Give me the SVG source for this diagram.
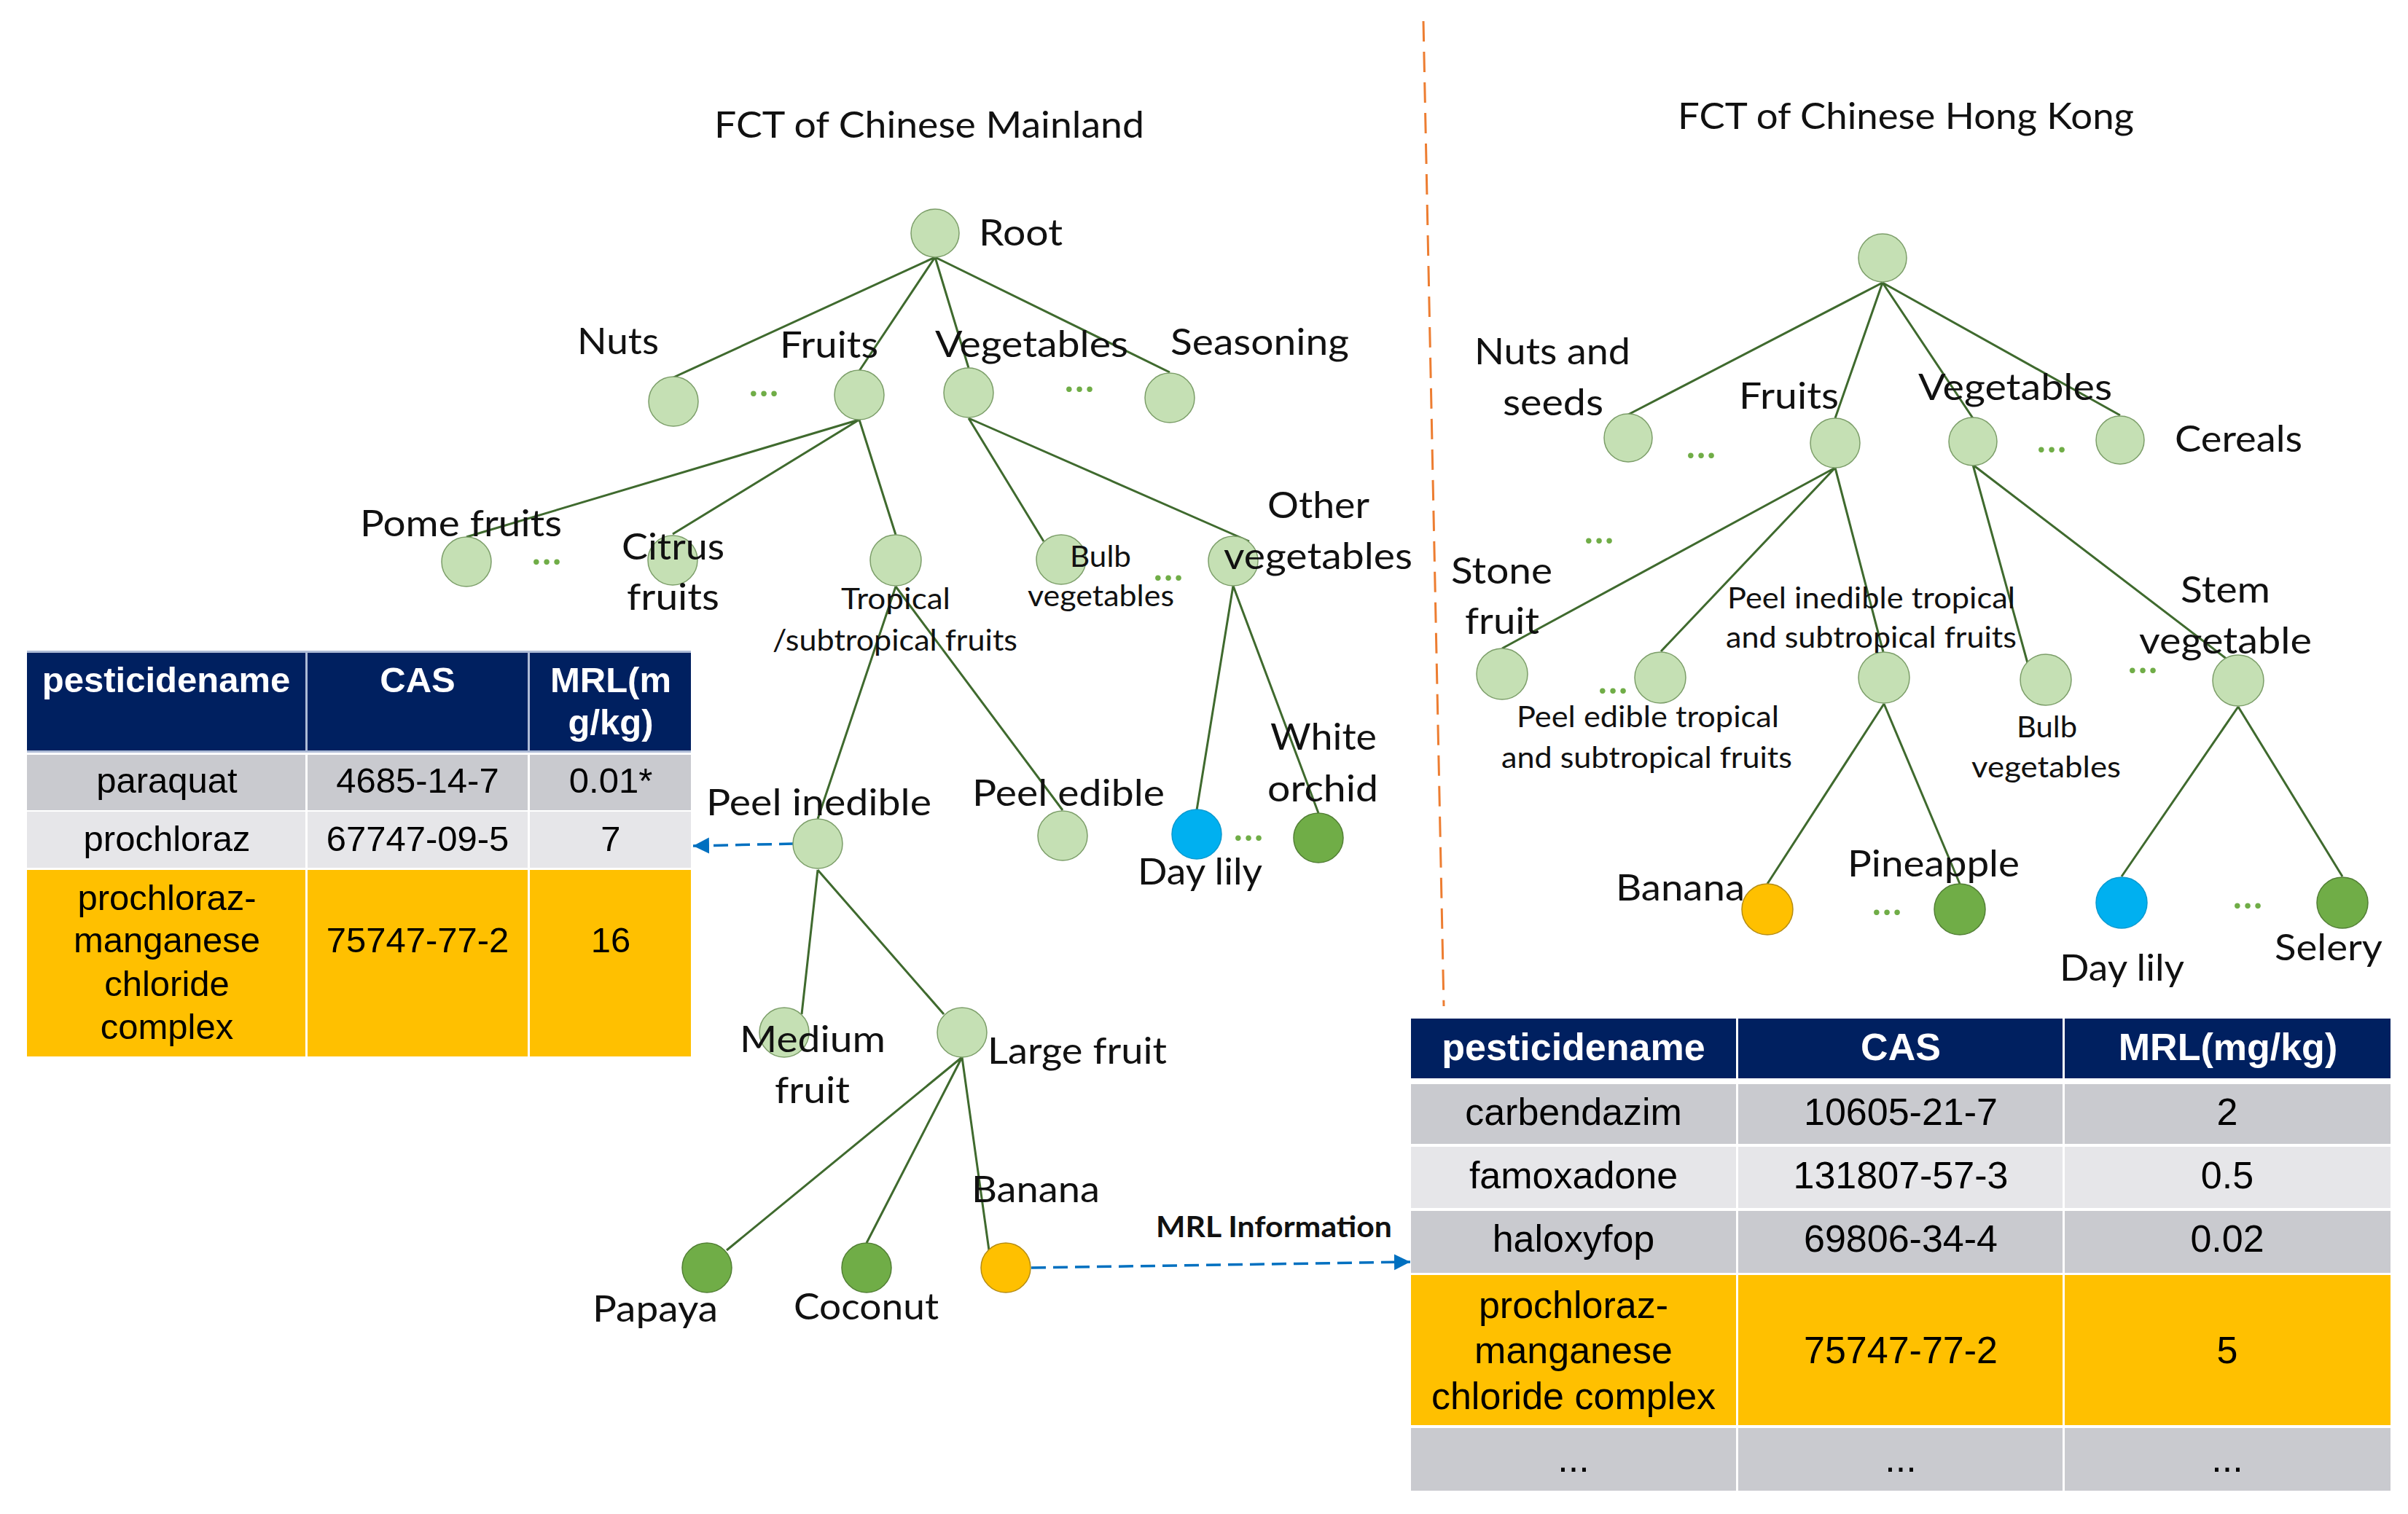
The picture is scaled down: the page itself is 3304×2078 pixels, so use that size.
<svg xmlns="http://www.w3.org/2000/svg" width="3304" height="2078" viewBox="0 0 3304 2078">
<style>
text{font-family:"Lato","Open Sans",sans-serif;fill:#111}
.l{font-size:50px}
.s{font-size:41px}
.d{font-size:60px;fill:#70AD47;text-anchor:middle}
.t{font-family:"Liberation Sans",Arial,sans-serif;text-anchor:middle;font-size:49px;fill:#000}
.t2{font-size:52px}
.h{font-weight:700;fill:#fff}
.e{stroke:#3F6A2E;stroke-width:3;fill:none}
.c{fill:#C5E0B4;stroke:#7C9E69;stroke-width:1.5}
.g{fill:#70AD47;stroke:#527F35;stroke-width:1.5}
.b{fill:#00B0F0;stroke:#0A9AD0;stroke-width:1.5}
.o{fill:#FFC000;stroke:#B58C14;stroke-width:1.5}
.ar{stroke:#0070C0;stroke-width:3.5;stroke-dasharray:20 10;fill:none}
.na{fill:#002060}.gr{fill:#C9CACF}.lg{fill:#E6E6E9}.ye{fill:#FFC000}
</style>
<defs>
<marker id="tip" markerUnits="userSpaceOnUse" markerWidth="24" markerHeight="24" refX="22" refY="11" orient="auto"><path d="M0 0L22 11L0 22Z" fill="#0070C0"/></marker>
</defs>
<rect width="3304" height="2078" fill="#fff"/>
<g id="connectors">
<path class="e" d="M1283 353L924 518M1283 353L1179 509M1283 353L1329 505M1283 353L1605 511"/>
<path class="e" d="M1179 576L640 737M1179 576L923 733M1179 576L1229 734M1329 574L1432 743M1329 574L1714 743"/>
<path class="e" d="M1229 805L1122 1124M1229 805L1458 1112M1692 804L1642 1112M1692 804L1809 1116"/>
<path class="e" d="M1122 1194L1100 1392M1122 1194L1295 1392M1320 1451L997 1716M1320 1451L1189 1706M1320 1451L1357 1716"/>
<path class="e" d="M2583 388L2234 569M2583 388L2518 574M2583 388L2707 574M2583 388L2909 570"/>
<path class="e" d="M2518 642L2061 890M2518 642L2279 894M2518 642L2584 895M2707 638L2782 910M2707 638L3056 905"/>
<path class="e" d="M2585 966L2425 1213M2585 966L2689 1213M3071 970L2911 1203M3071 970L3214 1203"/>
<path d="M1953 29L1981 1381" stroke="#ED7D31" stroke-width="3" stroke-dasharray="28 14" fill="none"/>
<path class="ar" d="M1089 1158L951 1161" marker-end="url(#tip)"/>
<path class="ar" d="M1415 1740L1935 1732" marker-end="url(#tip)"/>
</g>
<g id="titles">
<text class="l" x="980" y="189" textLength="590" lengthAdjust="spacingAndGlyphs">FCT of Chinese Mainland</text>
<text class="l" x="2302" y="177" textLength="626" lengthAdjust="spacingAndGlyphs">FCT of Chinese Hong Kong</text>
<text x="1586" y="1698" style="font-size:40px;font-weight:700" textLength="324" lengthAdjust="spacingAndGlyphs">MRL Information</text>
</g>
<g id="mainland-tree">
<g id="m-root"><circle class="c" cx="1283" cy="320" r="33"/><text class="l" x="1343" y="337" textLength="115" lengthAdjust="spacingAndGlyphs">Root</text></g>
<g id="m-nuts"><circle class="c" cx="924" cy="551" r="34"/><text class="l" x="792" y="486" textLength="112" lengthAdjust="spacingAndGlyphs">Nuts</text></g>
<g id="m-fruits"><circle class="c" cx="1179" cy="542" r="34"/><text class="l" x="1070" y="491" textLength="135" lengthAdjust="spacingAndGlyphs">Fruits</text></g>
<g id="m-vegetables"><circle class="c" cx="1329" cy="539" r="34"/><text class="l" x="1283" y="490" textLength="265" lengthAdjust="spacingAndGlyphs">Vegetables</text></g>
<g id="m-seasoning"><circle class="c" cx="1605" cy="546" r="34"/><text class="l" x="1606" y="487" textLength="245" lengthAdjust="spacingAndGlyphs">Seasoning</text></g>
<g id="m-pome"><circle class="c" cx="640" cy="771" r="34"/><text class="l" x="494" y="736" textLength="277" lengthAdjust="spacingAndGlyphs">Pome fruits</text></g>
<g id="m-citrus"><circle class="c" cx="923" cy="769" r="34"/><text class="l" x="853" y="768" textLength="141" lengthAdjust="spacingAndGlyphs">Citrus</text><text class="l" x="860" y="837" textLength="127" lengthAdjust="spacingAndGlyphs">fruits</text></g>
<g id="m-tropical"><circle class="c" cx="1229" cy="769" r="35"/><text class="s" x="1154" y="836" textLength="150" lengthAdjust="spacingAndGlyphs">Tropical</text><text class="s" x="1060" y="893" textLength="336" lengthAdjust="spacingAndGlyphs">/subtropical fruits</text></g>
<g id="m-bulb"><circle class="c" cx="1456" cy="768" r="34"/><text class="s" x="1468" y="778" textLength="84" lengthAdjust="spacingAndGlyphs">Bulb</text><text class="s" x="1410" y="832" textLength="201" lengthAdjust="spacingAndGlyphs">vegetables</text></g>
<g id="m-other"><circle class="c" cx="1692" cy="770" r="34"/><text class="l" x="1739" y="711" textLength="140" lengthAdjust="spacingAndGlyphs">Other</text><text class="l" x="1679" y="781" textLength="259" lengthAdjust="spacingAndGlyphs">vegetables</text></g>
<g id="m-peel-inedible"><circle class="c" cx="1122" cy="1158" r="34"/><text class="l" x="969" y="1119" textLength="309" lengthAdjust="spacingAndGlyphs">Peel inedible</text></g>
<g id="m-peel-edible"><circle class="c" cx="1458" cy="1147" r="34"/><text class="l" x="1334" y="1106" textLength="264" lengthAdjust="spacingAndGlyphs">Peel edible</text></g>
<g id="m-daylily"><circle class="b" cx="1642" cy="1145" r="34"/><text class="l" x="1561" y="1214" textLength="171" lengthAdjust="spacingAndGlyphs">Day lily</text></g>
<g id="m-orchid"><circle class="g" cx="1809" cy="1150" r="34"/><text class="l" x="1743" y="1029" textLength="146" lengthAdjust="spacingAndGlyphs">White</text><text class="l" x="1739" y="1100" textLength="152" lengthAdjust="spacingAndGlyphs">orchid</text></g>
<g id="m-medium"><circle class="c" cx="1076" cy="1417" r="34"/><text class="l" x="1015" y="1444" textLength="200" lengthAdjust="spacingAndGlyphs">Medium</text><text class="l" x="1063" y="1514" textLength="103" lengthAdjust="spacingAndGlyphs">fruit</text></g>
<g id="m-large"><circle class="c" cx="1320" cy="1417" r="34"/><text class="l" x="1355" y="1460" textLength="246" lengthAdjust="spacingAndGlyphs">Large fruit</text></g>
<g id="m-papaya"><circle class="g" cx="970" cy="1740" r="34"/><text class="l" x="813" y="1814" textLength="172" lengthAdjust="spacingAndGlyphs">Papaya</text></g>
<g id="m-coconut"><circle class="g" cx="1189" cy="1740" r="34"/><text class="l" x="1089" y="1811" textLength="199" lengthAdjust="spacingAndGlyphs">Coconut</text></g>
<g id="m-banana"><circle class="o" cx="1380" cy="1740" r="34"/><text class="l" x="1333" y="1650" textLength="176" lengthAdjust="spacingAndGlyphs">Banana</text></g>
<g id="m-dots"><text class="d" x="1048" y="544">...</text><text class="d" x="1481" y="538">...</text><text class="d" x="750" y="775">...</text><text class="d" x="1603" y="797">...</text><text class="d" x="1713" y="1154">...</text></g>
</g>
<g id="hongkong-tree">
<g id="h-root"><circle class="c" cx="2583" cy="354" r="33"/></g>
<g id="h-nuts"><circle class="c" cx="2234" cy="601" r="33"/><text class="l" x="2023" y="500" textLength="214" lengthAdjust="spacingAndGlyphs">Nuts and</text><text class="l" x="2062" y="570" textLength="138" lengthAdjust="spacingAndGlyphs">seeds</text></g>
<g id="h-fruits"><circle class="c" cx="2518" cy="608" r="34"/><text class="l" x="2386" y="561" textLength="137" lengthAdjust="spacingAndGlyphs">Fruits</text></g>
<g id="h-vegetables"><circle class="c" cx="2707" cy="606" r="33"/><text class="l" x="2632" y="549" textLength="266" lengthAdjust="spacingAndGlyphs">Vegetables</text></g>
<g id="h-cereals"><circle class="c" cx="2909" cy="604" r="33"/><text class="l" x="2984" y="620" textLength="175" lengthAdjust="spacingAndGlyphs">Cereals</text></g>
<g id="h-stone"><circle class="c" cx="2061" cy="925" r="35"/><text class="l" x="1991" y="801" textLength="139" lengthAdjust="spacingAndGlyphs">Stone</text><text class="l" x="2010" y="870" textLength="102" lengthAdjust="spacingAndGlyphs">fruit</text></g>
<g id="h-peel-edible"><circle class="c" cx="2278" cy="930" r="35"/><text class="s" x="2081" y="998" textLength="360" lengthAdjust="spacingAndGlyphs">Peel edible tropical</text><text class="s" x="2060" y="1054" textLength="399" lengthAdjust="spacingAndGlyphs">and subtropical fruits</text></g>
<g id="h-peel-inedible"><circle class="c" cx="2585" cy="930" r="35"/><text class="s" x="2370" y="835" textLength="395" lengthAdjust="spacingAndGlyphs">Peel inedible tropical</text><text class="s" x="2368" y="889" textLength="399" lengthAdjust="spacingAndGlyphs">and subtropical fruits</text></g>
<g id="h-bulb"><circle class="c" cx="2807" cy="933" r="35"/><text class="s" x="2767" y="1012" textLength="83" lengthAdjust="spacingAndGlyphs">Bulb</text><text class="s" x="2705" y="1067" textLength="205" lengthAdjust="spacingAndGlyphs">vegetables</text></g>
<g id="h-stem"><circle class="c" cx="3071" cy="934" r="35"/><text class="l" x="2992" y="827" textLength="123" lengthAdjust="spacingAndGlyphs">Stem</text><text class="l" x="2935" y="897" textLength="237" lengthAdjust="spacingAndGlyphs">vegetable</text></g>
<g id="h-banana"><circle class="o" cx="2425" cy="1248" r="35"/><text class="l" x="2217" y="1236" textLength="177" lengthAdjust="spacingAndGlyphs">Banana</text></g>
<g id="h-pineapple"><circle class="g" cx="2689" cy="1248" r="35"/><text class="l" x="2535" y="1203" textLength="236" lengthAdjust="spacingAndGlyphs">Pineapple</text></g>
<g id="h-daylily"><circle class="b" cx="2911" cy="1239" r="35"/><text class="l" x="2826" y="1346" textLength="171" lengthAdjust="spacingAndGlyphs">Day lily</text></g>
<g id="h-selery"><circle class="g" cx="3214" cy="1239" r="35"/><text class="l" x="3121" y="1318" textLength="148" lengthAdjust="spacingAndGlyphs">Selery</text></g>
<g id="h-dots"><text class="d" x="2334" y="629">...</text><text class="d" x="2815" y="621">...</text><text class="d" x="2194" y="746">...</text><text class="d" x="2213" y="952">...</text><text class="d" x="2940" y="924">...</text><text class="d" x="2589" y="1256">...</text><text class="d" x="3084" y="1247">...</text></g>
</g>
<g id="table-mainland">
<rect x="37" y="893" width="911" height="140" fill="#AEBBD6"/>
<rect class="na" x="37" y="896" width="382" height="134"/><rect class="na" x="422" y="896" width="302" height="134"/><rect class="na" x="727" y="896" width="221" height="134"/>
<rect class="gr" x="37" y="1036" width="382" height="76"/><rect class="gr" x="422" y="1036" width="302" height="76"/><rect class="gr" x="727" y="1036" width="221" height="76"/>
<rect class="lg" x="37" y="1114" width="382" height="77"/><rect class="lg" x="422" y="1114" width="302" height="77"/><rect class="lg" x="727" y="1114" width="221" height="77"/>
<rect class="ye" x="37" y="1194" width="382" height="256"/><rect class="ye" x="422" y="1194" width="302" height="256"/><rect class="ye" x="727" y="1194" width="221" height="256"/>
<text class="t h" x="228" y="950">pesticidename</text><text class="t h" x="573" y="950">CAS</text><text class="t h" x="838" y="950">MRL(m</text><text class="t h" x="838" y="1008">g/kg)</text>
<text class="t" x="229" y="1088">paraquat</text><text class="t" x="573" y="1088">4685-14-7</text><text class="t" x="838" y="1088">0.01*</text>
<text class="t" x="229" y="1168">prochloraz</text><text class="t" x="573" y="1168">67747-09-5</text><text class="t" x="838" y="1168">7</text>
<text class="t" x="229" y="1249">prochloraz-</text><text class="t" x="229" y="1307">manganese</text><text class="t" x="229" y="1367">chloride</text><text class="t" x="229" y="1426">complex</text><text class="t" x="573" y="1307">75747-77-2</text><text class="t" x="838" y="1307">16</text>
</g>
<g id="table-hongkong">
<rect class="na" x="1936" y="1398" width="446" height="82"/><rect class="na" x="2385" y="1398" width="445" height="82"/><rect class="na" x="2833" y="1398" width="447" height="82"/>
<rect class="gr" x="1936" y="1488" width="446" height="82"/><rect class="gr" x="2385" y="1488" width="445" height="82"/><rect class="gr" x="2833" y="1488" width="447" height="82"/>
<rect class="lg" x="1936" y="1574" width="446" height="84"/><rect class="lg" x="2385" y="1574" width="445" height="84"/><rect class="lg" x="2833" y="1574" width="447" height="84"/>
<rect class="gr" x="1936" y="1662" width="446" height="85"/><rect class="gr" x="2385" y="1662" width="445" height="85"/><rect class="gr" x="2833" y="1662" width="447" height="85"/>
<rect class="ye" x="1936" y="1750" width="446" height="206"/><rect class="ye" x="2385" y="1750" width="445" height="206"/><rect class="ye" x="2833" y="1750" width="447" height="206"/>
<rect class="gr" x="1936" y="1960" width="446" height="86"/><rect class="gr" x="2385" y="1960" width="445" height="86"/><rect class="gr" x="2833" y="1960" width="447" height="86"/>
<text class="t t2 h" x="2159" y="1455">pesticidename</text><text class="t t2 h" x="2608" y="1455">CAS</text><text class="t t2 h" x="3057" y="1455">MRL(mg/kg)</text>
<text class="t t2" x="2159" y="1544">carbendazim</text><text class="t t2" x="2608" y="1544">10605-21-7</text><text class="t t2" x="3056" y="1544">2</text>
<text class="t t2" x="2159" y="1631">famoxadone</text><text class="t t2" x="2608" y="1631">131807-57-3</text><text class="t t2" x="3056" y="1631">0.5</text>
<text class="t t2" x="2159" y="1718">haloxyfop</text><text class="t t2" x="2608" y="1718">69806-34-4</text><text class="t t2" x="3056" y="1718">0.02</text>
<text class="t t2" x="2159" y="1809">prochloraz-</text><text class="t t2" x="2159" y="1871">manganese</text><text class="t t2" x="2159" y="1934">chloride complex</text><text class="t t2" x="2608" y="1871">75747-77-2</text><text class="t t2" x="3056" y="1871">5</text>
<text class="t t2" x="2159" y="2020">...</text><text class="t t2" x="2608" y="2020">...</text><text class="t t2" x="3056" y="2020">...</text>
</g>
</svg>
